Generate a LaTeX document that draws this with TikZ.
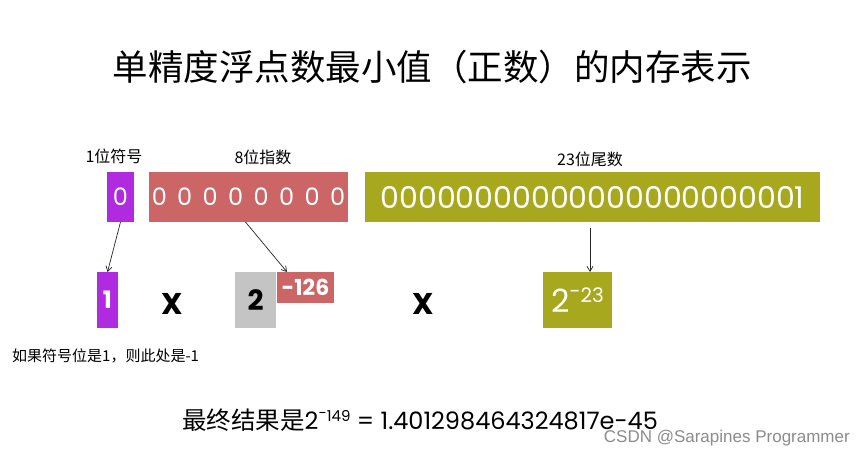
\documentclass[tikz,border=0pt]{standalone}
\usepackage{fontspec}
\setmainfont{Poppins}
\newfontfamily\cjk{Noto Sans CJK SC}
\newfontfamily\wmfont{Liberation Sans}
\usetikzlibrary{arrows.meta}
\definecolor{cpurple}{HTML}{B02AE0}
\definecolor{cred}{HTML}{CC6565}
\definecolor{colive}{HTML}{A8A81E}
\definecolor{cgray}{HTML}{C4C4C4}
\newcommand{\fs}[1]{\fontsize{#1}{#1}\selectfont}
\begin{document}
\begin{tikzpicture}[x=1pt,y=-1pt,
  box/.style={inner sep=0pt, outer sep=0pt, text=white},
  lbl/.style={inner sep=0pt, font=\cjk\fs{16}},
  arr/.style={-{Straight Barb[length=5pt,width=6pt]}, line width=0.7pt, black!85},
  times/.style={inner sep=0pt, font=\bfseries\fs{30}}]
\useasboundingbox (0,0) rectangle (865,456);
\fill[white] (0,0) rectangle (865,456);
% title
\node[inner sep=0pt, font=\cjk\fs{35.5}] (title) at (432,67) {单精度浮点数最小值（正数）的内存表示};
% labels
\node[lbl] (l1) at (114,156) {1位符号};
\node[lbl] (l8) at (263,157) {8位指数};
\node[lbl] (l23) at (590,159) {23位尾数};
% top boxes
\node[box, fill=cpurple, minimum width=27pt, minimum height=50pt, font=\fs{24}] (sign) at (120.5,197) {0};
\node[box, fill=cred, minimum width=199pt, minimum height=50pt, font=\fs{24}] (exp) at (248.5,197) {0\ \,0\ \,0\ \,0\ \,0\ \,0\ \,0\ \,0};
\node[box, fill=colive, minimum width=455pt, minimum height=50pt, font=\fs{26}] (man) at (592.5,197) {\resizebox{424pt}{22pt}{00000000000000000000001}};
% bottom boxes
\node[box, fill=cpurple, minimum width=21pt, minimum height=56pt, font=\bfseries\fs{24}] (one) at (107.5,300) {1};
\node[times] (x1) at (172,304) {X};
\node[box, fill=cgray, minimum width=41pt, minimum height=56pt, font=\bfseries\fs{28}, text=black] (two) at (255.5,300) {2};
\node[box, fill=cred, minimum width=57pt, minimum height=31pt, font=\bfseries\fs{22}] (neg) at (305.5,287.5) {-126};
\node[times] (x2) at (423,304) {X};
\node[box, fill=colive, minimum width=69pt, minimum height=56pt] (p23) at (577.5,300) {\fs{32}2\raisebox{10pt}{\fs{20}\raisebox{4pt}{-}23}};
% arrows
\coordinate (a2) at (287,272);
\coordinate (m1) at (590,228);
\coordinate (m2) at (590,272);
\draw[arr] (sign.south) -- (one.north);
\draw[arr] ([xshift=-3pt]exp.south) -- (a2);
\draw[arr] (m1) -- (m2);
% note
\node[inner sep=0pt, font=\cjk\fs{15}, anchor=west] (note) at (12,356) {如果符号位是1，则此处是-1};
% result
\node[inner sep=0pt, anchor=west] (res) at (182,420) {{\cjk\fs{24.5}最终结果是}{\fs{24}2\raisebox{8pt}{\fs{15}\raisebox{3pt}{-}149}\ = 1.401298464324817e-45}};
% watermark
\node[inner sep=0pt, anchor=east, font=\wmfont\fs{17}, text=black!45] (wm) at (850,438) {CSDN @Sarapines Programmer};
\end{tikzpicture}
\end{document}
